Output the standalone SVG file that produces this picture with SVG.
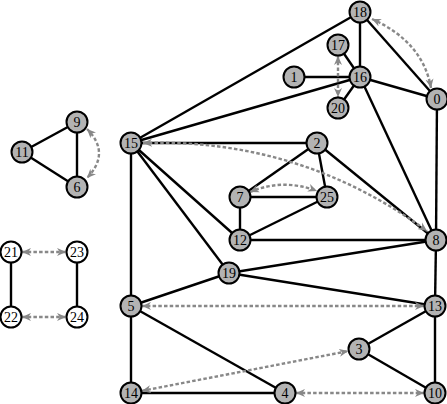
<svg xmlns="http://www.w3.org/2000/svg" width="447" height="404" viewBox="0 0 447 404">
<style>
.e{stroke:#000;stroke-width:2.4;fill:none}
.d{stroke:#888;stroke-width:2.4;stroke-dasharray:3.5,2.2;fill:none;marker-start:url(#ah);marker-end:url(#ah)}
.n circle{fill:#b3b3b3;stroke:#000;stroke-width:2}
.w circle{fill:#fff;stroke:#000;stroke-width:2}
text{font-family:"Liberation Serif","Times New Roman",serif;font-size:14px;text-anchor:middle;dominant-baseline:central;fill:#000}
</style>
<defs>
<marker id="ah" viewBox="0 0 10 10" refX="10" refY="5" markerWidth="9" markerHeight="9" markerUnits="userSpaceOnUse" orient="auto-start-reverse">
<path d="M0,0.5 L10,5 L0,9.5 L3,5 z" fill="#888"/>
</marker>
</defs>
<g id="connectors">
<line class="e" x1="360" y1="12" x2="131" y2="143"/>
<line class="e" x1="360" y1="12" x2="360" y2="77"/>
<line class="e" x1="360" y1="12" x2="437" y2="99"/>
<line class="e" x1="338" y1="45" x2="360" y2="77"/>
<line class="e" x1="294" y1="77" x2="360" y2="77"/>
<line class="e" x1="338" y1="108" x2="360" y2="77"/>
<line class="e" x1="131" y1="143" x2="360" y2="77"/>
<line class="e" x1="437" y1="99" x2="360" y2="77"/>
<line class="e" x1="436" y1="240" x2="360" y2="77"/>
<line class="e" x1="437" y1="99" x2="436" y2="240"/>
<line class="e" x1="77" y1="122" x2="22" y2="152"/>
<line class="e" x1="22" y1="152" x2="77" y2="187"/>
<line class="e" x1="77" y1="122" x2="77" y2="187"/>
<line class="e" x1="131" y1="143" x2="317" y2="143"/>
<line class="e" x1="131" y1="143" x2="240" y2="240"/>
<line class="e" x1="131" y1="143" x2="229" y2="273"/>
<line class="e" x1="131" y1="143" x2="131" y2="306"/>
<line class="e" x1="317" y1="143" x2="240" y2="197"/>
<line class="e" x1="317" y1="143" x2="327" y2="197"/>
<line class="e" x1="317" y1="143" x2="436" y2="240"/>
<line class="e" x1="240" y1="197" x2="327" y2="197"/>
<line class="e" x1="240" y1="197" x2="240" y2="240"/>
<line class="e" x1="240" y1="240" x2="327" y2="197"/>
<line class="e" x1="240" y1="240" x2="436" y2="240"/>
<line class="e" x1="229" y1="273" x2="436" y2="240"/>
<line class="e" x1="436" y1="240" x2="435" y2="306"/>
<line class="e" x1="229" y1="273" x2="435" y2="306"/>
<line class="e" x1="229" y1="273" x2="131" y2="306"/>
<line class="e" x1="131" y1="306" x2="131" y2="393"/>
<line class="e" x1="131" y1="306" x2="285" y2="393"/>
<line class="e" x1="131" y1="393" x2="285" y2="393"/>
<line class="e" x1="435" y1="306" x2="359" y2="349"/>
<line class="e" x1="435" y1="306" x2="435" y2="393"/>
<line class="e" x1="359" y1="349" x2="435" y2="393"/>
<line class="e" x1="11" y1="252" x2="11" y2="317"/>
<line class="e" x1="77" y1="252" x2="77" y2="317"/>
<path class="d" d="M372,19 Q423,42 431,88"/>
<line class="d" x1="338" y1="56" x2="338" y2="97"/>
<path class="d" d="M87,129 Q111,153 87,178"/>
<path class="d" d="M143,143 Q300,138 427,231"/>
<path class="d" d="M250,192 Q283,178 317,191"/>
<line class="d" x1="22" y1="252" x2="66" y2="252"/>
<line class="d" x1="22" y1="317" x2="66" y2="317"/>
<line class="d" x1="424" y1="306" x2="142" y2="306"/>
<line class="d" x1="141.8" y1="390.9" x2="348.2" y2="351.1"/>
<line class="d" x1="296" y1="393" x2="424" y2="393"/>
</g>
<g id="n0" class="n"><circle cx="437" cy="99" r="10.5"/><text x="437" y="99">0</text></g>
<g id="n1" class="n"><circle cx="294" cy="77" r="10.5"/><text x="294" y="77">1</text></g>
<g id="n2" class="n"><circle cx="317" cy="143" r="10.5"/><text x="317" y="143">2</text></g>
<g id="n3" class="n"><circle cx="359" cy="349" r="10.5"/><text x="359" y="349">3</text></g>
<g id="n4" class="n"><circle cx="285" cy="393" r="10.5"/><text x="285" y="393">4</text></g>
<g id="n5" class="n"><circle cx="131" cy="306" r="10.5"/><text x="131" y="306">5</text></g>
<g id="n6" class="n"><circle cx="77" cy="187" r="10.5"/><text x="77" y="187">6</text></g>
<g id="n7" class="n"><circle cx="240" cy="197" r="10.5"/><text x="240" y="197">7</text></g>
<g id="n8" class="n"><circle cx="436" cy="240" r="10.5"/><text x="436" y="240">8</text></g>
<g id="n9" class="n"><circle cx="77" cy="122" r="10.5"/><text x="77" y="122">9</text></g>
<g id="n10" class="n"><circle cx="435" cy="393" r="10.5"/><text x="435" y="393">10</text></g>
<g id="n11" class="n"><circle cx="22" cy="152" r="10.5"/><text x="22" y="152">11</text></g>
<g id="n12" class="n"><circle cx="240" cy="240" r="10.5"/><text x="240" y="240">12</text></g>
<g id="n13" class="n"><circle cx="435" cy="306" r="10.5"/><text x="435" y="306">13</text></g>
<g id="n14" class="n"><circle cx="131" cy="393" r="10.5"/><text x="131" y="393">14</text></g>
<g id="n15" class="n"><circle cx="131" cy="143" r="10.5"/><text x="131" y="143">15</text></g>
<g id="n16" class="n"><circle cx="360" cy="77" r="10.5"/><text x="360" y="77">16</text></g>
<g id="n17" class="n"><circle cx="338" cy="45" r="10.5"/><text x="338" y="45">17</text></g>
<g id="n18" class="n"><circle cx="360" cy="12" r="10.5"/><text x="360" y="12">18</text></g>
<g id="n19" class="n"><circle cx="229" cy="273" r="10.5"/><text x="229" y="273">19</text></g>
<g id="n20" class="n"><circle cx="338" cy="108" r="10.5"/><text x="338" y="108">20</text></g>
<g id="n21" class="w"><circle cx="11" cy="252" r="10.5"/><text x="11" y="252">21</text></g>
<g id="n22" class="w"><circle cx="11" cy="317" r="10.5"/><text x="11" y="317">22</text></g>
<g id="n23" class="w"><circle cx="77" cy="252" r="10.5"/><text x="77" y="252">23</text></g>
<g id="n24" class="w"><circle cx="77" cy="317" r="10.5"/><text x="77" y="317">24</text></g>
<g id="n25" class="n"><circle cx="327" cy="197" r="10.5"/><text x="327" y="197">25</text></g>
</svg>
